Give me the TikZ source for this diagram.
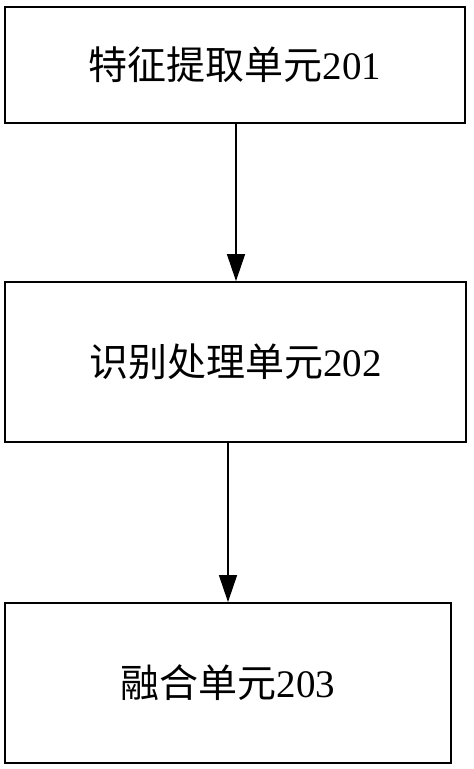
\documentclass[tikz,border=0pt]{standalone}
\usepackage{fontspec}
\setmainfont{Liberation Serif}
\newfontfamily\cjk{Noto Sans CJK SC}
\usetikzlibrary{arrows.meta}
\begin{document}
\begin{tikzpicture}[x=1pt,y=1pt,
  unitbox/.style={draw=black,line width=1.8pt,fill=white,inner sep=0pt,
    font=\fontsize{39}{42}\selectfont},
  conn/.style={line width=1.4pt,-{Triangle[length=27pt,width=18pt]}}]
\useasboundingbox (0,0) rectangle (474,769);
\fill[white] (0,0) rectangle (474,769);
% boxes (y flipped: 769 - y)
\node[unitbox,minimum width=460pt,minimum height=116pt] (b1) at (235,{769-65})
  {{\cjk 特征提取单元}201};
\node[unitbox,minimum width=461pt,minimum height=160pt] (b2) at (235.5,{769-362})
  {{\cjk 识别处理单元}202};
\node[unitbox,minimum width=446pt,minimum height=160pt] (b3) at (228,{769-683})
  {{\cjk 融合单元}203};
\draw[conn] (b1.south -| 236,0) -- (b2.north -| 236,0);
\draw[conn] (b2.south -| b3.north) -- (b3.north);
\end{tikzpicture}
\end{document}
